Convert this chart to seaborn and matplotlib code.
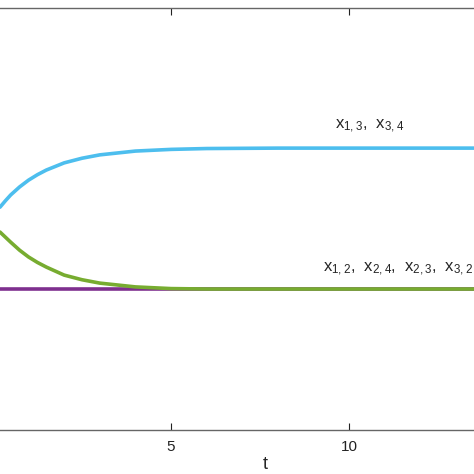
import numpy as np
import matplotlib
matplotlib.use("Agg")
import matplotlib.pyplot as plt
import seaborn as sns

# values
t_blue = [0.2, 0.35, 0.5, 0.75, 1, 1.25, 1.5, 2, 2.5, 3, 4, 5, 6, 8, 13.5]
y_blue = [0.528, 0.543, 0.557, 0.576, 0.592, 0.605, 0.616, 0.633, 0.644, 0.652, 0.661, 0.665, 0.667, 0.668, 0.668]
t_green = [0.2, 0.35, 0.5, 0.75, 1, 1.25, 1.5, 2, 2.5, 3, 4, 5, 6, 8, 13.5]
y_green = [0.469, 0.457, 0.445, 0.426, 0.410, 0.397, 0.386, 0.367, 0.356, 0.348, 0.339, 0.335, 0.334, 0.334, 0.334]
t_purple = [0.2, 13.5]
y_purple = [0.334, 0.334]

sns.set_style("white")
plt.rcParams["font.family"] = ["Liberation Sans", "DejaVu Sans"]
fig = plt.figure(figsize=(4.74, 4.74), dpi=100)
ax = fig.add_axes([0, 0.093, 1, 0.89])

sns.lineplot(x=t_purple, y=y_purple, ax=ax, color="#7E2F8E", lw=2.6)
sns.lineplot(x=t_blue, y=y_blue, ax=ax, color="#4DBEEE", lw=2.6)
sns.lineplot(x=t_green, y=y_green, ax=ax, color="#77AC30", lw=2.6)

ax.set_xlim(0.2, 13.5)
ax.set_ylim(0, 1)
ax.set_xticks([5, 10])
ax.set_yticks([])
ax.tick_params(axis="x", direction="in", length=5, top=True, bottom=True,
               labelsize=11, colors="#222222", pad=7)
for s in ["left", "right"]:
    ax.spines[s].set_visible(False)
for s in ["top", "bottom"]:
    ax.spines[s].set_color("#666666")
    ax.spines[s].set_linewidth(1)
ax.set_xlabel("t", fontsize=13)
ax.xaxis.set_label_coords(0.559, -0.062)

ax.text(9.6, 0.70, r"$\mathregular{x_{1,3},\ x_{3,4}}$", fontsize=12, ha="left", va="bottom")
ax.text(9.25, 0.36, r"$\mathregular{x_{1,2},\ x_{2,4},\ x_{2,3},\ x_{3,2}}$", fontsize=12,
        ha="left", va="bottom", clip_on=False)

fig.savefig("out.png", dpi=100)
